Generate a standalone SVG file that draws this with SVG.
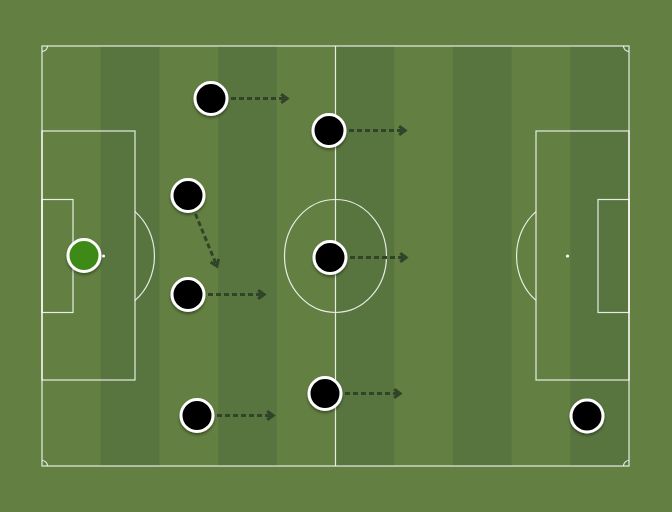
<svg xmlns="http://www.w3.org/2000/svg" width="672" height="512" viewBox="0 0 672 512">
<defs>
<style>
.ln{fill:none;stroke:#ffffff;stroke-opacity:0.85;stroke-width:1.2}
.dk{fill:#587540}
.pl{fill:#000;stroke:#fff;stroke-width:3;filter:url(#sh)}
.gk{fill:#3e8a17;stroke:#fff;stroke-width:3;filter:url(#sh)}
.ar{fill:none;stroke:#31442a;stroke-width:3;stroke-dasharray:5 3;marker-end:url(#ah)}
</style>
<marker id="ah" viewBox="0 0 10 10" refX="6" refY="5" markerWidth="3.6" markerHeight="3.6" orient="auto" markerUnits="strokeWidth">
<path d="M1.5,1 L7,5 L1.5,9" fill="none" stroke="#31442a" stroke-width="2.8"/>
</marker>
<filter id="sh" x="-50%" y="-50%" width="200%" height="200%">
<feDropShadow dx="0" dy="2" stdDeviation="1.5" flood-color="#000" flood-opacity="0.4"/>
</filter>
</defs>
<rect width="672" height="512" fill="#638042"/>
<g id="stripes">
<rect class="dk" x="100.7" y="46" width="58.7" height="420"/>
<rect class="dk" x="218.1" y="46" width="58.7" height="420"/>
<rect class="dk" x="335.5" y="46" width="58.7" height="420"/>
<rect class="dk" x="452.9" y="46" width="58.7" height="420"/>
<rect class="dk" x="570.3" y="46" width="58.7" height="420"/>
</g>
<g id="pitch">
<rect class="ln" x="42" y="46" width="587" height="420"/>
<line class="ln" x1="335.5" y1="46" x2="335.5" y2="466"/>
<ellipse class="ln" cx="335.5" cy="256" rx="51" ry="56.5"/>
<circle cx="335.5" cy="256" r="1.6" fill="#fff"/>
<rect class="ln" x="42" y="131" width="93" height="249"/>
<rect class="ln" x="42" y="199.5" width="31" height="113"/>
<path class="ln" d="M135,211.6 A51,56.5 0 0 1 135,300.4"/>
<circle cx="103.5" cy="256" r="1.6" fill="#fff"/>
<rect class="ln" x="536" y="131" width="93" height="249"/>
<rect class="ln" x="598" y="199.5" width="31" height="113"/>
<path class="ln" d="M536,211.6 A51,56.5 0 0 0 536,300.4"/>
<circle cx="567.5" cy="256" r="1.6" fill="#fff"/>
<path class="ln" d="M42,51.5 A5.5,5.5 0 0 0 47.5,46"/>
<path class="ln" d="M623.5,46 A5.5,5.5 0 0 0 629,51.5"/>
<path class="ln" d="M47.5,466 A5.5,5.5 0 0 0 42,460.5"/>
<path class="ln" d="M629,460.5 A5.5,5.5 0 0 0 623.5,466"/>
</g>
<g id="connectors">
<line class="ar" x1="231" y1="98.5" x2="286" y2="98.5"/>
<line class="ar" x1="349" y1="130.5" x2="404" y2="130.5"/>
<line class="ar" x1="195.5" y1="214" x2="216.5" y2="265"/>
<line class="ar" x1="350" y1="257.5" x2="405" y2="257.5"/>
<line class="ar" x1="208" y1="294.5" x2="263" y2="294.5"/>
<line class="ar" x1="345" y1="393.5" x2="399" y2="393.5"/>
<line class="ar" x1="217" y1="415.5" x2="272" y2="415.5"/>
</g>
<g id="p1"><circle class="pl" cx="211" cy="98.5" r="16"/></g>
<g id="p2"><circle class="pl" cx="329" cy="130.5" r="16"/></g>
<g id="p3"><circle class="pl" cx="188" cy="195.5" r="16"/></g>
<g id="p4"><circle class="pl" cx="330" cy="257.5" r="16"/></g>
<g id="p5"><circle class="pl" cx="188" cy="294.5" r="16"/></g>
<g id="p6"><circle class="pl" cx="325" cy="393.5" r="16"/></g>
<g id="p7"><circle class="pl" cx="197" cy="415.5" r="16"/></g>
<g id="gk"><circle class="gk" cx="84" cy="255.5" r="16"/></g>
<g id="p8"><circle class="pl" cx="587" cy="416" r="16"/></g>
</svg>
